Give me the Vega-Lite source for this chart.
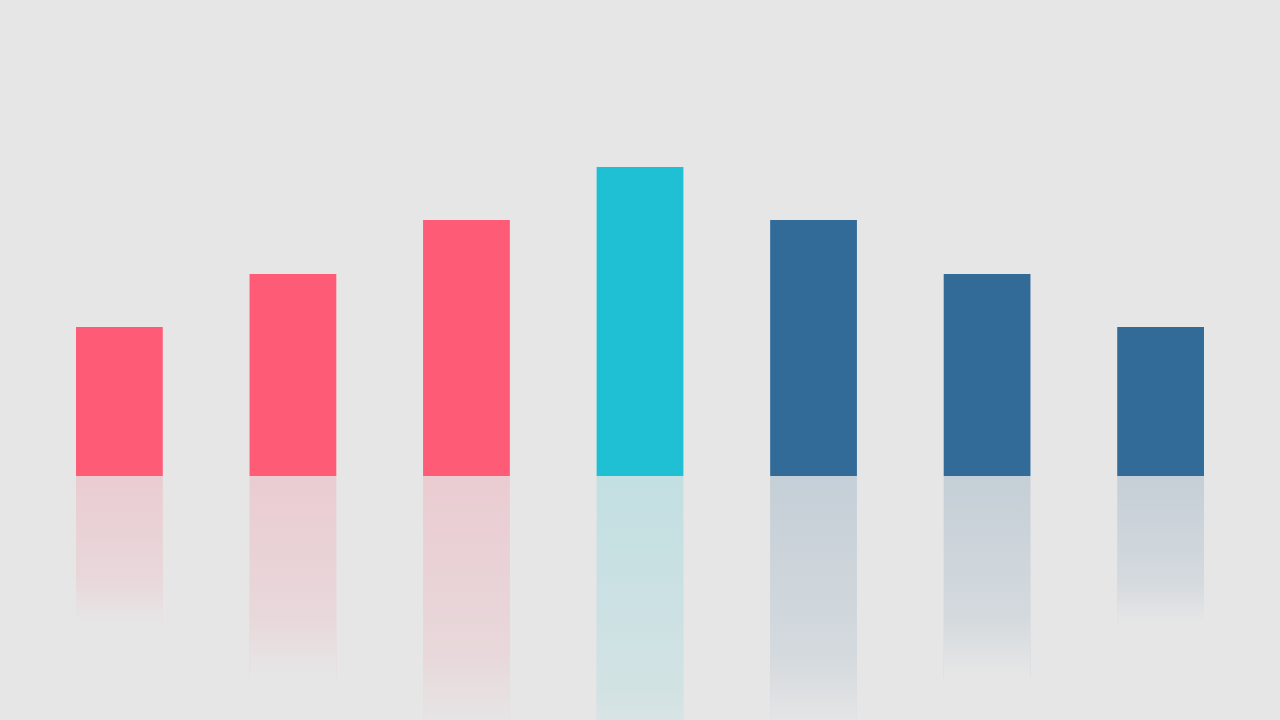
{
  "$schema": "https://vega.github.io/schema/vega-lite/v6.json",
  "width": 1280,
  "height": 720,
  "autosize": {"type": "fit", "contains": "padding"},
  "padding": 0,
  "background": "#e6e6e6",
  "config": {"view": {"stroke": null}},
  "data": {
    "values": [
      {"cat": "A", "value": 149, "group": "pink"},
      {"cat": "B", "value": 202, "group": "pink"},
      {"cat": "C", "value": 256, "group": "pink"},
      {"cat": "D", "value": 309, "group": "cyan"},
      {"cat": "E", "value": 256, "group": "blue"},
      {"cat": "F", "value": 202, "group": "blue"},
      {"cat": "G", "value": 149, "group": "blue"}
    ]
  },
  "encoding": {
    "x": {
      "field": "cat",
      "type": "nominal",
      "axis": null,
      "scale": {"paddingInner": 0.5, "paddingOuter": 0.438}
    }
  },
  "layer": [
    {
      "mark": {"type": "bar", "opacity": 0.18, "clip": true},
      "encoding": {
        "y": {
          "field": "value",
          "type": "quantitative",
          "axis": null,
          "scale": {"domain": [-476, 244], "reverse": true, "nice": false, "zero": false}
        },
        "color": {
          "field": "group",
          "type": "nominal",
          "legend": null,
          "scale": {"domain": ["pink", "cyan", "blue"], "range": ["#fe5b76", "#1fc0d4", "#336b98"]}
        }
      }
    },
    {
      "mark": {
        "type": "bar",
        "clip": true,
        "fill": {
          "gradient": "linear",
          "x1": 0, "y1": 0, "x2": 0, "y2": 1,
          "stops": [
            {"offset": 0, "color": "rgba(230,230,230,0)"},
            {"offset": 0.7, "color": "rgba(230,230,230,0.45)"},
            {"offset": 0.98, "color": "rgba(230,230,230,1)"},
            {"offset": 1, "color": "rgba(230,230,230,1)"}
          ]
        }
      },
      "encoding": {
        "y": {
          "field": "value",
          "type": "quantitative",
          "axis": null,
          "scale": {"domain": [-476, 244], "reverse": true, "nice": false, "zero": false}
        }
      }
    },
    {
      "mark": {"type": "bar", "clip": true},
      "encoding": {
        "y": {
          "field": "value",
          "type": "quantitative",
          "axis": null,
          "scale": {"domain": [-244, 476], "nice": false, "zero": false}
        },
        "color": {
          "field": "group",
          "type": "nominal",
          "legend": null,
          "scale": {"domain": ["pink", "cyan", "blue"], "range": ["#fe5b76", "#1fc0d4", "#336b98"]}
        }
      }
    }
  ],
  "resolve": {"scale": {"y": "independent"}}
}
